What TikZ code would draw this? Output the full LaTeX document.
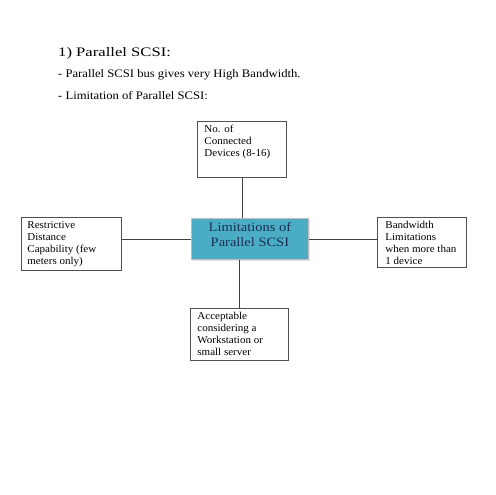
\documentclass[tikz,border=0pt]{standalone}
\usepackage{fontspec}
\setmainfont{Liberation Serif}
\newfontfamily\titlefont[FakeStretch=1.28]{Liberation Serif}
\newfontfamily\bulletfont[FakeStretch=1.1]{Liberation Serif}
\newfontfamily\boxfont[FakeStretch=1.05]{Liberation Serif}
\newfontfamily\centerfont[FakeStretch=1.13]{Liberation Serif}
\usetikzlibrary{shadows}
\definecolor{aqua}{HTML}{4BACC6}
\definecolor{boxgray}{HTML}{505050}
\definecolor{linegray}{HTML}{404040}
\definecolor{navytext}{HTML}{1B2F4F}
\newcommand{\boxtext}[4]{\parbox[c][#2][t]{#1}{\vspace*{3.7pt}\raggedright\leftskip=#3\relax #4}}
\begin{document}
\begin{tikzpicture}[x=1pt,y=-1pt,
  plain/.style={anchor=base west, inner sep=0pt},
  box/.style={draw=boxgray, line width=0.8pt, inner sep=0pt, anchor=north west, fill=white,
    font=\boxfont\fontsize{10.5}{12}\selectfont},
  hub/.style={draw=gray!50, line width=0.8pt, fill=aqua, inner sep=0pt, anchor=north west,
    text=navytext, drop shadow={shadow xshift=2pt, shadow yshift=-2pt, fill=gray!45},
    font=\centerfont\fontsize{12.8}{15.3}\selectfont},
  link/.style={draw=linegray, line width=0.8pt}]
\useasboundingbox (0,0) rectangle (495,495);
\node[plain, font=\titlefont\fontsize{13}{15}\selectfont] (title) at (58,56.3) {1) Parallel SCSI:};
\node[plain, font=\bulletfont\fontsize{11.5}{13}\selectfont] (b1) at (58,77.3) {- Parallel SCSI bus gives very High Bandwidth.};
\node[plain, font=\bulletfont\fontsize{11.5}{13}\selectfont] (b2) at (58,99) {- Limitation of Parallel SCSI:};

\node[hub] (center) at (191,218) {\parbox[c][41pt][t]{117pt}{\vspace*{4pt}\centering Limitations of\\Parallel SCSI}};

\node[box] (top) at (197,121) {\boxtext{89pt}{56pt}{7pt}{No. of\\Connected\\Devices (8-16)}};
\node[box] (left) at (21,217) {\boxtext{100pt}{53pt}{6pt}{Restrictive\\Distance\\Capability (few\\meters only)}};
\node[box] (right) at (377,217) {\boxtext{89pt}{50pt}{8pt}{Bandwidth\\Limitations\\when more than\\1 device}};
\node[box] (bottom) at (190,308) {\boxtext{98pt}{52pt}{7pt}{Acceptable\\considering a\\Workstation or\\small server}};

\draw[link] (top.south) -- (top.south |- center.north);
\draw[link] (center.west -| left.east) -- (center.west);
\draw[link] (center.east) -- (center.east -| right.west);
\draw[link] (bottom.north) -- (bottom.north |- center.south);
\end{tikzpicture}
\end{document}
